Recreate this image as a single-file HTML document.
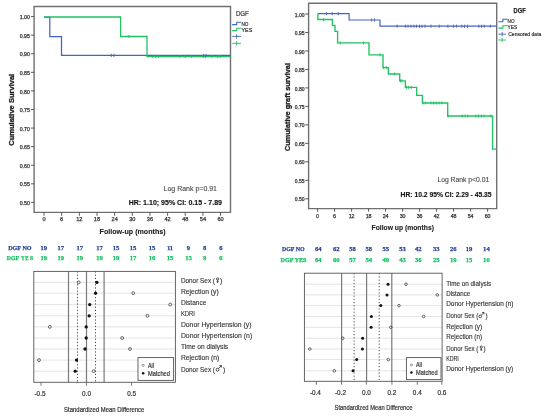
<!DOCTYPE html>
<html><head><meta charset="utf-8"><style>
html,body{margin:0;padding:0;background:#fff;width:550px;height:418px;overflow:hidden}
svg{display:block;filter:blur(0.3px)}
</style></head><body>
<svg width="550" height="418" viewBox="0 0 550 418">
<rect width="550" height="418" fill="#fff"/>
<path d="M34.1 6.5 H230.5 V212.4 H34.1 Z" fill="none" stroke="#707070" stroke-width="1.4"/>
<line x1="30.9" y1="16.60" x2="34.1" y2="16.60" stroke="#4a4a4a" stroke-width="0.9"/>
<text x="29.8" y="19.25" font-size="5.2" text-anchor="end" font-weight="normal" fill="#333" font-family="Liberation Sans" stroke="#333" stroke-width="0.25" >1.00</text>
<line x1="30.9" y1="35.18" x2="34.1" y2="35.18" stroke="#4a4a4a" stroke-width="0.9"/>
<text x="29.8" y="37.83" font-size="5.2" text-anchor="end" font-weight="normal" fill="#333" font-family="Liberation Sans" stroke="#333" stroke-width="0.25" >0.95</text>
<line x1="30.9" y1="53.76" x2="34.1" y2="53.76" stroke="#4a4a4a" stroke-width="0.9"/>
<text x="29.8" y="56.41" font-size="5.2" text-anchor="end" font-weight="normal" fill="#333" font-family="Liberation Sans" stroke="#333" stroke-width="0.25" >0.90</text>
<line x1="30.9" y1="72.34" x2="34.1" y2="72.34" stroke="#4a4a4a" stroke-width="0.9"/>
<text x="29.8" y="74.99000000000001" font-size="5.2" text-anchor="end" font-weight="normal" fill="#333" font-family="Liberation Sans" stroke="#333" stroke-width="0.25" >0.85</text>
<line x1="30.9" y1="90.92" x2="34.1" y2="90.92" stroke="#4a4a4a" stroke-width="0.9"/>
<text x="29.8" y="93.57" font-size="5.2" text-anchor="end" font-weight="normal" fill="#333" font-family="Liberation Sans" stroke="#333" stroke-width="0.25" >0.80</text>
<line x1="30.9" y1="109.50" x2="34.1" y2="109.50" stroke="#4a4a4a" stroke-width="0.9"/>
<text x="29.8" y="112.15" font-size="5.2" text-anchor="end" font-weight="normal" fill="#333" font-family="Liberation Sans" stroke="#333" stroke-width="0.25" >0.75</text>
<line x1="30.9" y1="128.08" x2="34.1" y2="128.08" stroke="#4a4a4a" stroke-width="0.9"/>
<text x="29.8" y="130.73" font-size="5.2" text-anchor="end" font-weight="normal" fill="#333" font-family="Liberation Sans" stroke="#333" stroke-width="0.25" >0.70</text>
<line x1="30.9" y1="146.66" x2="34.1" y2="146.66" stroke="#4a4a4a" stroke-width="0.9"/>
<text x="29.8" y="149.31" font-size="5.2" text-anchor="end" font-weight="normal" fill="#333" font-family="Liberation Sans" stroke="#333" stroke-width="0.25" >0.65</text>
<line x1="30.9" y1="165.24" x2="34.1" y2="165.24" stroke="#4a4a4a" stroke-width="0.9"/>
<text x="29.8" y="167.89" font-size="5.2" text-anchor="end" font-weight="normal" fill="#333" font-family="Liberation Sans" stroke="#333" stroke-width="0.25" >0.60</text>
<line x1="30.9" y1="183.82" x2="34.1" y2="183.82" stroke="#4a4a4a" stroke-width="0.9"/>
<text x="29.8" y="186.46999999999997" font-size="5.2" text-anchor="end" font-weight="normal" fill="#333" font-family="Liberation Sans" stroke="#333" stroke-width="0.25" >0.55</text>
<line x1="30.9" y1="202.40" x2="34.1" y2="202.40" stroke="#4a4a4a" stroke-width="0.9"/>
<text x="29.8" y="205.04999999999998" font-size="5.2" text-anchor="end" font-weight="normal" fill="#333" font-family="Liberation Sans" stroke="#333" stroke-width="0.25" >0.50</text>
<line x1="44.00" y1="212.4" x2="44.00" y2="215.8" stroke="#4a4a4a" stroke-width="0.9"/>
<text x="44.0" y="221.3" font-size="5.6" text-anchor="middle" font-weight="normal" fill="#333" font-family="Liberation Sans" stroke="#333" stroke-width="0.25" >0</text>
<line x1="61.66" y1="212.4" x2="61.66" y2="215.8" stroke="#4a4a4a" stroke-width="0.9"/>
<text x="61.66" y="221.3" font-size="5.6" text-anchor="middle" font-weight="normal" fill="#333" font-family="Liberation Sans" stroke="#333" stroke-width="0.25" >6</text>
<line x1="79.32" y1="212.4" x2="79.32" y2="215.8" stroke="#4a4a4a" stroke-width="0.9"/>
<text x="79.32" y="221.3" font-size="5.6" text-anchor="middle" font-weight="normal" fill="#333" font-family="Liberation Sans" stroke="#333" stroke-width="0.25" >12</text>
<line x1="96.98" y1="212.4" x2="96.98" y2="215.8" stroke="#4a4a4a" stroke-width="0.9"/>
<text x="96.98" y="221.3" font-size="5.6" text-anchor="middle" font-weight="normal" fill="#333" font-family="Liberation Sans" stroke="#333" stroke-width="0.25" >18</text>
<line x1="114.64" y1="212.4" x2="114.64" y2="215.8" stroke="#4a4a4a" stroke-width="0.9"/>
<text x="114.64" y="221.3" font-size="5.6" text-anchor="middle" font-weight="normal" fill="#333" font-family="Liberation Sans" stroke="#333" stroke-width="0.25" >24</text>
<line x1="132.30" y1="212.4" x2="132.30" y2="215.8" stroke="#4a4a4a" stroke-width="0.9"/>
<text x="132.3" y="221.3" font-size="5.6" text-anchor="middle" font-weight="normal" fill="#333" font-family="Liberation Sans" stroke="#333" stroke-width="0.25" >30</text>
<line x1="149.96" y1="212.4" x2="149.96" y2="215.8" stroke="#4a4a4a" stroke-width="0.9"/>
<text x="149.96" y="221.3" font-size="5.6" text-anchor="middle" font-weight="normal" fill="#333" font-family="Liberation Sans" stroke="#333" stroke-width="0.25" >36</text>
<line x1="167.62" y1="212.4" x2="167.62" y2="215.8" stroke="#4a4a4a" stroke-width="0.9"/>
<text x="167.62" y="221.3" font-size="5.6" text-anchor="middle" font-weight="normal" fill="#333" font-family="Liberation Sans" stroke="#333" stroke-width="0.25" >42</text>
<line x1="185.28" y1="212.4" x2="185.28" y2="215.8" stroke="#4a4a4a" stroke-width="0.9"/>
<text x="185.28" y="221.3" font-size="5.6" text-anchor="middle" font-weight="normal" fill="#333" font-family="Liberation Sans" stroke="#333" stroke-width="0.25" >48</text>
<line x1="202.94" y1="212.4" x2="202.94" y2="215.8" stroke="#4a4a4a" stroke-width="0.9"/>
<text x="202.94" y="221.3" font-size="5.6" text-anchor="middle" font-weight="normal" fill="#333" font-family="Liberation Sans" stroke="#333" stroke-width="0.25" >54</text>
<line x1="220.60" y1="212.4" x2="220.60" y2="215.8" stroke="#4a4a4a" stroke-width="0.9"/>
<text x="220.6" y="221.3" font-size="5.6" text-anchor="middle" font-weight="normal" fill="#333" font-family="Liberation Sans" stroke="#333" stroke-width="0.25" >60</text>
<text x="99.6" y="234.0" font-size="7.2" text-anchor="start" font-weight="bold" fill="#222" font-family="Liberation Sans" stroke="#222" stroke-width="0.12" textLength="66" lengthAdjust="spacingAndGlyphs" >Follow-up (months)</text>
<text transform="translate(14.2,109.8) rotate(-90)" x="0" y="0" font-size="7.4" text-anchor="middle" font-weight="bold" fill="#222" stroke="#222" stroke-width="0.3" font-family="Liberation Sans" textLength="72" lengthAdjust="spacingAndGlyphs">Cumulative Survival</text>
<polyline points="44.00,17.00 49.80,17.00 49.80,36.50 61.50,36.50 61.50,55.40 230.50,55.40" fill="none" stroke="#4563c2" stroke-width="1.25" stroke-linejoin="miter"/>
<polyline points="44.00,17.00 120.60,17.00 120.60,36.50 147.00,36.50 147.00,56.70 230.50,56.70" fill="none" stroke="#21c264" stroke-width="1.3" stroke-linejoin="miter"/>
<line x1="111.30" y1="53.80" x2="111.30" y2="57.00" stroke="#4563c2" stroke-width="0.9"/>
<line x1="114.00" y1="53.80" x2="114.00" y2="57.00" stroke="#4563c2" stroke-width="0.9"/>
<line x1="129.00" y1="34.90" x2="129.00" y2="38.10" stroke="#21c264" stroke-width="0.9"/>
<line x1="152.70" y1="54.90" x2="152.70" y2="58.10" stroke="#21c264" stroke-width="0.9"/>
<line x1="155.60" y1="54.90" x2="155.60" y2="58.10" stroke="#21c264" stroke-width="0.9"/>
<line x1="158.50" y1="54.90" x2="158.50" y2="58.10" stroke="#21c264" stroke-width="0.9"/>
<line x1="179.70" y1="54.90" x2="179.70" y2="58.10" stroke="#21c264" stroke-width="0.9"/>
<line x1="185.20" y1="54.90" x2="185.20" y2="58.10" stroke="#21c264" stroke-width="0.9"/>
<line x1="191.30" y1="54.90" x2="191.30" y2="58.10" stroke="#21c264" stroke-width="0.9"/>
<line x1="203.00" y1="54.90" x2="203.00" y2="58.10" stroke="#21c264" stroke-width="0.9"/>
<line x1="205.60" y1="54.90" x2="205.60" y2="58.10" stroke="#21c264" stroke-width="0.9"/>
<line x1="211.70" y1="54.90" x2="211.70" y2="58.10" stroke="#21c264" stroke-width="0.9"/>
<line x1="217.70" y1="54.90" x2="217.70" y2="58.10" stroke="#21c264" stroke-width="0.9"/>
<line x1="220.30" y1="54.90" x2="220.30" y2="58.10" stroke="#21c264" stroke-width="0.9"/>
<line x1="203.70" y1="53.80" x2="203.70" y2="57.00" stroke="#4563c2" stroke-width="0.9"/>
<line x1="206.00" y1="53.80" x2="206.00" y2="57.00" stroke="#4563c2" stroke-width="0.9"/>
<text x="235.9" y="15.8" font-size="7.2" text-anchor="start" font-weight="normal" fill="#333" font-family="Liberation Sans" stroke="#333" stroke-width="0.2" textLength="12.8" lengthAdjust="spacingAndGlyphs" >DGF</text>
<polyline points="232.20,24.60 236.70,24.60 236.70,22.20 241.20,22.20" fill="none" stroke="#4563c2" stroke-width="1.1" stroke-linejoin="miter"/>
<text x="241.5" y="25.8" font-size="5.6" text-anchor="start" font-weight="normal" fill="#333" font-family="Liberation Sans" stroke="#333" stroke-width="0.2" textLength="7" lengthAdjust="spacingAndGlyphs" >NO</text>
<polyline points="232.20,30.60 236.70,30.60 236.70,28.20 241.20,28.20" fill="none" stroke="#21c264" stroke-width="1.1" stroke-linejoin="miter"/>
<text x="241.5" y="31.9" font-size="5.6" text-anchor="start" font-weight="normal" fill="#333" font-family="Liberation Sans" stroke="#333" stroke-width="0.2" textLength="10.8" lengthAdjust="spacingAndGlyphs" >YES</text>
<line x1="232.2" y1="36.4" x2="241" y2="36.4" stroke="#4563c2" stroke-width="0.9"/><line x1="236.6" y1="34.3" x2="236.6" y2="38.5" stroke="#4563c2" stroke-width="0.9"/>
<line x1="232.2" y1="43.3" x2="241" y2="43.3" stroke="#21c264" stroke-width="0.9"/><line x1="236.6" y1="41.2" x2="236.6" y2="45.4" stroke="#21c264" stroke-width="0.9"/>
<text x="163.6" y="191.2" font-size="7.0" text-anchor="start" font-weight="normal" fill="#444" font-family="Liberation Sans" stroke="#444" stroke-width="0.1" textLength="53.4" lengthAdjust="spacingAndGlyphs" >Log Rank p=0.91</text>
<text x="128.7" y="204.6" font-size="7.0" text-anchor="start" font-weight="bold" fill="#111" font-family="Liberation Sans" stroke="#111" stroke-width="0.12" textLength="93.3" lengthAdjust="spacingAndGlyphs" >HR: 1.10; 95% CI: 0.15 - 7.89</text>
<path d="M308.6 3.3 H496.7 V208.6 H308.6 Z" fill="none" stroke="#707070" stroke-width="1.4"/>
<line x1="305.2" y1="14.00" x2="308.6" y2="14.00" stroke="#4a4a4a" stroke-width="0.9"/>
<text x="304.5" y="16.6" font-size="5.0" text-anchor="end" font-weight="normal" fill="#333" font-family="Liberation Sans" stroke="#333" stroke-width="0.25" >1.00</text>
<line x1="305.2" y1="32.48" x2="308.6" y2="32.48" stroke="#4a4a4a" stroke-width="0.9"/>
<text x="304.5" y="35.080000000000005" font-size="5.0" text-anchor="end" font-weight="normal" fill="#333" font-family="Liberation Sans" stroke="#333" stroke-width="0.25" >0.95</text>
<line x1="305.2" y1="50.96" x2="308.6" y2="50.96" stroke="#4a4a4a" stroke-width="0.9"/>
<text x="304.5" y="53.56" font-size="5.0" text-anchor="end" font-weight="normal" fill="#333" font-family="Liberation Sans" stroke="#333" stroke-width="0.25" >0.90</text>
<line x1="305.2" y1="69.44" x2="308.6" y2="69.44" stroke="#4a4a4a" stroke-width="0.9"/>
<text x="304.5" y="72.03999999999999" font-size="5.0" text-anchor="end" font-weight="normal" fill="#333" font-family="Liberation Sans" stroke="#333" stroke-width="0.25" >0.85</text>
<line x1="305.2" y1="87.92" x2="308.6" y2="87.92" stroke="#4a4a4a" stroke-width="0.9"/>
<text x="304.5" y="90.52" font-size="5.0" text-anchor="end" font-weight="normal" fill="#333" font-family="Liberation Sans" stroke="#333" stroke-width="0.25" >0.80</text>
<line x1="305.2" y1="106.40" x2="308.6" y2="106.40" stroke="#4a4a4a" stroke-width="0.9"/>
<text x="304.5" y="109.0" font-size="5.0" text-anchor="end" font-weight="normal" fill="#333" font-family="Liberation Sans" stroke="#333" stroke-width="0.25" >0.75</text>
<line x1="305.2" y1="124.88" x2="308.6" y2="124.88" stroke="#4a4a4a" stroke-width="0.9"/>
<text x="304.5" y="127.47999999999999" font-size="5.0" text-anchor="end" font-weight="normal" fill="#333" font-family="Liberation Sans" stroke="#333" stroke-width="0.25" >0.70</text>
<line x1="305.2" y1="143.36" x2="308.6" y2="143.36" stroke="#4a4a4a" stroke-width="0.9"/>
<text x="304.5" y="145.96" font-size="5.0" text-anchor="end" font-weight="normal" fill="#333" font-family="Liberation Sans" stroke="#333" stroke-width="0.25" >0.65</text>
<line x1="305.2" y1="161.84" x2="308.6" y2="161.84" stroke="#4a4a4a" stroke-width="0.9"/>
<text x="304.5" y="164.44" font-size="5.0" text-anchor="end" font-weight="normal" fill="#333" font-family="Liberation Sans" stroke="#333" stroke-width="0.25" >0.60</text>
<line x1="305.2" y1="180.32" x2="308.6" y2="180.32" stroke="#4a4a4a" stroke-width="0.9"/>
<text x="304.5" y="182.92" font-size="5.0" text-anchor="end" font-weight="normal" fill="#333" font-family="Liberation Sans" stroke="#333" stroke-width="0.25" >0.55</text>
<line x1="305.2" y1="198.80" x2="308.6" y2="198.80" stroke="#4a4a4a" stroke-width="0.9"/>
<text x="304.5" y="201.4" font-size="5.0" text-anchor="end" font-weight="normal" fill="#333" font-family="Liberation Sans" stroke="#333" stroke-width="0.25" >0.50</text>
<line x1="317.60" y1="208.6" x2="317.60" y2="211.7" stroke="#4a4a4a" stroke-width="0.9"/>
<text x="317.6" y="217.6" font-size="5.3" text-anchor="middle" font-weight="normal" fill="#333" font-family="Liberation Sans" stroke="#333" stroke-width="0.25" >0</text>
<line x1="334.60" y1="208.6" x2="334.60" y2="211.7" stroke="#4a4a4a" stroke-width="0.9"/>
<text x="334.6" y="217.6" font-size="5.3" text-anchor="middle" font-weight="normal" fill="#333" font-family="Liberation Sans" stroke="#333" stroke-width="0.25" >6</text>
<line x1="351.60" y1="208.6" x2="351.60" y2="211.7" stroke="#4a4a4a" stroke-width="0.9"/>
<text x="351.6" y="217.6" font-size="5.3" text-anchor="middle" font-weight="normal" fill="#333" font-family="Liberation Sans" stroke="#333" stroke-width="0.25" >12</text>
<line x1="368.60" y1="208.6" x2="368.60" y2="211.7" stroke="#4a4a4a" stroke-width="0.9"/>
<text x="368.6" y="217.6" font-size="5.3" text-anchor="middle" font-weight="normal" fill="#333" font-family="Liberation Sans" stroke="#333" stroke-width="0.25" >18</text>
<line x1="385.60" y1="208.6" x2="385.60" y2="211.7" stroke="#4a4a4a" stroke-width="0.9"/>
<text x="385.6" y="217.6" font-size="5.3" text-anchor="middle" font-weight="normal" fill="#333" font-family="Liberation Sans" stroke="#333" stroke-width="0.25" >24</text>
<line x1="402.60" y1="208.6" x2="402.60" y2="211.7" stroke="#4a4a4a" stroke-width="0.9"/>
<text x="402.6" y="217.6" font-size="5.3" text-anchor="middle" font-weight="normal" fill="#333" font-family="Liberation Sans" stroke="#333" stroke-width="0.25" >30</text>
<line x1="419.60" y1="208.6" x2="419.60" y2="211.7" stroke="#4a4a4a" stroke-width="0.9"/>
<text x="419.6" y="217.6" font-size="5.3" text-anchor="middle" font-weight="normal" fill="#333" font-family="Liberation Sans" stroke="#333" stroke-width="0.25" >36</text>
<line x1="436.60" y1="208.6" x2="436.60" y2="211.7" stroke="#4a4a4a" stroke-width="0.9"/>
<text x="436.6" y="217.6" font-size="5.3" text-anchor="middle" font-weight="normal" fill="#333" font-family="Liberation Sans" stroke="#333" stroke-width="0.25" >42</text>
<line x1="453.60" y1="208.6" x2="453.60" y2="211.7" stroke="#4a4a4a" stroke-width="0.9"/>
<text x="453.6" y="217.6" font-size="5.3" text-anchor="middle" font-weight="normal" fill="#333" font-family="Liberation Sans" stroke="#333" stroke-width="0.25" >48</text>
<line x1="470.60" y1="208.6" x2="470.60" y2="211.7" stroke="#4a4a4a" stroke-width="0.9"/>
<text x="470.6" y="217.6" font-size="5.3" text-anchor="middle" font-weight="normal" fill="#333" font-family="Liberation Sans" stroke="#333" stroke-width="0.25" >54</text>
<line x1="487.60" y1="208.6" x2="487.60" y2="211.7" stroke="#4a4a4a" stroke-width="0.9"/>
<text x="487.6" y="217.6" font-size="5.3" text-anchor="middle" font-weight="normal" fill="#333" font-family="Liberation Sans" stroke="#333" stroke-width="0.25" >60</text>
<text x="371.6" y="229.8" font-size="7.2" text-anchor="start" font-weight="bold" fill="#222" font-family="Liberation Sans" stroke="#222" stroke-width="0.12" textLength="62.3" lengthAdjust="spacingAndGlyphs" >Follow up (months)</text>
<text transform="translate(289.6,107) rotate(-90)" x="0" y="0" font-size="7.4" text-anchor="middle" font-weight="bold" fill="#222" stroke="#222" stroke-width="0.3" font-family="Liberation Sans" textLength="88" lengthAdjust="spacingAndGlyphs">Cumulative graft survival</text>
<polyline points="317.90,13.60 349.10,13.60 349.10,20.00 380.00,20.00 380.00,26.20 496.70,26.20" fill="none" stroke="#4563c2" stroke-width="1.2" stroke-linejoin="miter"/>
<line x1="326.40" y1="12.00" x2="326.40" y2="15.20" stroke="#4563c2" stroke-width="0.9"/>
<line x1="332.20" y1="12.00" x2="332.20" y2="15.20" stroke="#4563c2" stroke-width="0.9"/>
<line x1="338.20" y1="12.00" x2="338.20" y2="15.20" stroke="#4563c2" stroke-width="0.9"/>
<line x1="371.60" y1="18.40" x2="371.60" y2="21.60" stroke="#4563c2" stroke-width="0.9"/>
<line x1="374.50" y1="18.40" x2="374.50" y2="21.60" stroke="#4563c2" stroke-width="0.9"/>
<line x1="397.10" y1="24.60" x2="397.10" y2="27.80" stroke="#4563c2" stroke-width="0.9"/>
<line x1="405.40" y1="24.60" x2="405.40" y2="27.80" stroke="#4563c2" stroke-width="0.9"/>
<line x1="408.00" y1="24.60" x2="408.00" y2="27.80" stroke="#4563c2" stroke-width="0.9"/>
<line x1="411.00" y1="24.60" x2="411.00" y2="27.80" stroke="#4563c2" stroke-width="0.9"/>
<line x1="414.00" y1="24.60" x2="414.00" y2="27.80" stroke="#4563c2" stroke-width="0.9"/>
<line x1="416.60" y1="24.60" x2="416.60" y2="27.80" stroke="#4563c2" stroke-width="0.9"/>
<line x1="419.50" y1="24.60" x2="419.50" y2="27.80" stroke="#4563c2" stroke-width="0.9"/>
<line x1="422.00" y1="24.60" x2="422.00" y2="27.80" stroke="#4563c2" stroke-width="0.9"/>
<line x1="425.00" y1="24.60" x2="425.00" y2="27.80" stroke="#4563c2" stroke-width="0.9"/>
<line x1="431.10" y1="24.60" x2="431.10" y2="27.80" stroke="#4563c2" stroke-width="0.9"/>
<line x1="439.30" y1="24.60" x2="439.30" y2="27.80" stroke="#4563c2" stroke-width="0.9"/>
<line x1="447.90" y1="24.60" x2="447.90" y2="27.80" stroke="#4563c2" stroke-width="0.9"/>
<line x1="453.40" y1="24.60" x2="453.40" y2="27.80" stroke="#4563c2" stroke-width="0.9"/>
<line x1="456.40" y1="24.60" x2="456.40" y2="27.80" stroke="#4563c2" stroke-width="0.9"/>
<line x1="461.80" y1="24.60" x2="461.80" y2="27.80" stroke="#4563c2" stroke-width="0.9"/>
<line x1="464.50" y1="24.60" x2="464.50" y2="27.80" stroke="#4563c2" stroke-width="0.9"/>
<line x1="467.50" y1="24.60" x2="467.50" y2="27.80" stroke="#4563c2" stroke-width="0.9"/>
<line x1="478.90" y1="24.60" x2="478.90" y2="27.80" stroke="#4563c2" stroke-width="0.9"/>
<line x1="481.60" y1="24.60" x2="481.60" y2="27.80" stroke="#4563c2" stroke-width="0.9"/>
<line x1="484.30" y1="24.60" x2="484.30" y2="27.80" stroke="#4563c2" stroke-width="0.9"/>
<line x1="490.20" y1="24.60" x2="490.20" y2="27.80" stroke="#4563c2" stroke-width="0.9"/>
<polyline points="317.90,13.60 317.90,19.50 332.40,19.50 332.40,25.30 335.00,25.30 335.00,31.30 337.60,31.30 337.60,42.90 369.00,42.90 369.00,54.90 383.00,54.90 383.00,67.60 388.30,67.60 388.30,74.00 399.70,74.00 399.70,80.80 405.40,80.80 405.40,87.40 416.70,87.40 416.70,95.30 422.40,95.30 422.40,103.00 447.70,103.00 447.70,116.00 492.60,116.00 492.60,149.10 496.70,149.10" fill="none" stroke="#21c264" stroke-width="1.35" stroke-linejoin="miter"/>
<line x1="323.70" y1="17.90" x2="323.70" y2="21.10" stroke="#21c264" stroke-width="0.9"/>
<line x1="340.30" y1="41.30" x2="340.30" y2="44.50" stroke="#21c264" stroke-width="0.9"/>
<line x1="363.50" y1="41.30" x2="363.50" y2="44.50" stroke="#21c264" stroke-width="0.9"/>
<line x1="380.00" y1="53.30" x2="380.00" y2="56.50" stroke="#21c264" stroke-width="0.9"/>
<line x1="383.60" y1="66.00" x2="383.60" y2="69.20" stroke="#21c264" stroke-width="0.9"/>
<line x1="386.30" y1="66.00" x2="386.30" y2="69.20" stroke="#21c264" stroke-width="0.9"/>
<line x1="394.50" y1="72.40" x2="394.50" y2="75.60" stroke="#21c264" stroke-width="0.9"/>
<line x1="400.50" y1="79.20" x2="400.50" y2="82.40" stroke="#21c264" stroke-width="0.9"/>
<line x1="402.00" y1="79.20" x2="402.00" y2="82.40" stroke="#21c264" stroke-width="0.9"/>
<line x1="406.50" y1="85.80" x2="406.50" y2="89.00" stroke="#21c264" stroke-width="0.9"/>
<line x1="408.60" y1="85.80" x2="408.60" y2="89.00" stroke="#21c264" stroke-width="0.9"/>
<line x1="411.30" y1="85.80" x2="411.30" y2="89.00" stroke="#21c264" stroke-width="0.9"/>
<line x1="423.00" y1="101.40" x2="423.00" y2="104.60" stroke="#21c264" stroke-width="0.9"/>
<line x1="425.70" y1="101.40" x2="425.70" y2="104.60" stroke="#21c264" stroke-width="0.9"/>
<line x1="431.00" y1="101.40" x2="431.00" y2="104.60" stroke="#21c264" stroke-width="0.9"/>
<line x1="433.70" y1="101.40" x2="433.70" y2="104.60" stroke="#21c264" stroke-width="0.9"/>
<line x1="436.40" y1="101.40" x2="436.40" y2="104.60" stroke="#21c264" stroke-width="0.9"/>
<line x1="439.10" y1="101.40" x2="439.10" y2="104.60" stroke="#21c264" stroke-width="0.9"/>
<line x1="441.80" y1="101.40" x2="441.80" y2="104.60" stroke="#21c264" stroke-width="0.9"/>
<line x1="448.10" y1="114.40" x2="448.10" y2="117.60" stroke="#21c264" stroke-width="0.9"/>
<line x1="462.10" y1="114.40" x2="462.10" y2="117.60" stroke="#21c264" stroke-width="0.9"/>
<line x1="465.20" y1="114.40" x2="465.20" y2="117.60" stroke="#21c264" stroke-width="0.9"/>
<line x1="467.90" y1="114.40" x2="467.90" y2="117.60" stroke="#21c264" stroke-width="0.9"/>
<line x1="475.90" y1="114.40" x2="475.90" y2="117.60" stroke="#21c264" stroke-width="0.9"/>
<line x1="478.60" y1="114.40" x2="478.60" y2="117.60" stroke="#21c264" stroke-width="0.9"/>
<line x1="481.30" y1="114.40" x2="481.30" y2="117.60" stroke="#21c264" stroke-width="0.9"/>
<line x1="484.00" y1="114.40" x2="484.00" y2="117.60" stroke="#21c264" stroke-width="0.9"/>
<line x1="490.80" y1="114.40" x2="490.80" y2="117.60" stroke="#21c264" stroke-width="0.9"/>
<text x="513.6" y="12.6" font-size="7.6" text-anchor="start" font-weight="bold" fill="#222" font-family="Liberation Sans" stroke="#222" stroke-width="0.25" textLength="12.1" lengthAdjust="spacingAndGlyphs" >DGF</text>
<polyline points="498.40,21.70 502.90,21.70 502.90,19.30 507.40,19.30" fill="none" stroke="#4563c2" stroke-width="1.1" stroke-linejoin="miter"/>
<text x="507.6" y="22.9" font-size="5.6" text-anchor="start" font-weight="normal" fill="#333" font-family="Liberation Sans" stroke="#333" stroke-width="0.2" textLength="7" lengthAdjust="spacingAndGlyphs" >NO</text>
<polyline points="498.40,28.10 502.90,28.10 502.90,25.70 507.40,25.70" fill="none" stroke="#21c264" stroke-width="1.1" stroke-linejoin="miter"/>
<text x="507.6" y="29.3" font-size="5.6" text-anchor="start" font-weight="normal" fill="#333" font-family="Liberation Sans" stroke="#333" stroke-width="0.2" textLength="9.5" lengthAdjust="spacingAndGlyphs" >YES</text>
<line x1="498.4" y1="34.2" x2="506" y2="34.2" stroke="#4563c2" stroke-width="0.9"/><line x1="502.2" y1="32.1" x2="502.2" y2="36.3" stroke="#4563c2" stroke-width="0.9"/>
<text x="508.2" y="36.3" font-size="5.6" text-anchor="start" font-weight="normal" fill="#333" font-family="Liberation Sans" stroke="#333" stroke-width="0.2" textLength="33.2" lengthAdjust="spacingAndGlyphs" >Censored data</text>
<line x1="498.4" y1="40.0" x2="506" y2="40.0" stroke="#21c264" stroke-width="0.9"/><line x1="502.2" y1="37.9" x2="502.2" y2="42.1" stroke="#21c264" stroke-width="0.9"/>
<text x="437.4" y="181.5" font-size="7.0" text-anchor="start" font-weight="normal" fill="#444" font-family="Liberation Sans" stroke="#444" stroke-width="0.1" textLength="51.8" lengthAdjust="spacingAndGlyphs" >Log Rank p&lt;0.01</text>
<text x="400.6" y="197.1" font-size="7.0" text-anchor="start" font-weight="bold" fill="#111" font-family="Liberation Sans" stroke="#111" stroke-width="0.12" textLength="91" lengthAdjust="spacingAndGlyphs" >HR: 10.2 95% CI: 2.29 - 45.35</text>
<text x="8.2" y="249.6" font-size="6.6" text-anchor="start" font-weight="bold" fill="#2b4594" font-family="Liberation Serif" stroke="#2b4594" stroke-width="0.25" textLength="12.8" lengthAdjust="spacingAndGlyphs" >DGF</text>
<text x="22.4" y="249.6" font-size="6.6" text-anchor="start" font-weight="bold" fill="#2b4594" font-family="Liberation Serif" stroke="#2b4594" stroke-width="0.25" textLength="9.1" lengthAdjust="spacingAndGlyphs" >NO</text>
<text x="6.8" y="259.9" font-size="6.6" text-anchor="start" font-weight="bold" fill="#14bf5e" font-family="Liberation Serif" stroke="#14bf5e" stroke-width="0.25" textLength="12.3" lengthAdjust="spacingAndGlyphs" >DGF</text>
<text x="20.9" y="259.9" font-size="6.6" text-anchor="start" font-weight="bold" fill="#14bf5e" font-family="Liberation Serif" stroke="#14bf5e" stroke-width="0.25" textLength="3.7" lengthAdjust="spacingAndGlyphs" >Y</text>
<text x="25.2" y="259.9" font-size="6.6" text-anchor="start" font-weight="bold" fill="#14bf5e" font-family="Liberation Serif" stroke="#14bf5e" stroke-width="0.25" textLength="3.3" lengthAdjust="spacingAndGlyphs" >E</text>
<text x="29.9" y="259.9" font-size="6.6" text-anchor="start" font-weight="bold" fill="#14bf5e" font-family="Liberation Serif" stroke="#14bf5e" stroke-width="0.25" textLength="3.2" lengthAdjust="spacingAndGlyphs" >S</text>
<text x="43.8" y="249.5" font-size="6.6" text-anchor="middle" font-weight="bold" fill="#2b4594" font-family="Liberation Serif" stroke="#2b4594" stroke-width="0.25" >19</text>
<text x="60.8" y="249.5" font-size="6.6" text-anchor="middle" font-weight="bold" fill="#2b4594" font-family="Liberation Serif" stroke="#2b4594" stroke-width="0.25" >17</text>
<text x="79.7" y="249.5" font-size="6.6" text-anchor="middle" font-weight="bold" fill="#2b4594" font-family="Liberation Serif" stroke="#2b4594" stroke-width="0.25" >17</text>
<text x="99.6" y="249.5" font-size="6.6" text-anchor="middle" font-weight="bold" fill="#2b4594" font-family="Liberation Serif" stroke="#2b4594" stroke-width="0.25" >17</text>
<text x="116" y="249.5" font-size="6.6" text-anchor="middle" font-weight="bold" fill="#2b4594" font-family="Liberation Serif" stroke="#2b4594" stroke-width="0.25" >15</text>
<text x="133" y="249.5" font-size="6.6" text-anchor="middle" font-weight="bold" fill="#2b4594" font-family="Liberation Serif" stroke="#2b4594" stroke-width="0.25" >15</text>
<text x="152" y="249.5" font-size="6.6" text-anchor="middle" font-weight="bold" fill="#2b4594" font-family="Liberation Serif" stroke="#2b4594" stroke-width="0.25" >15</text>
<text x="170" y="249.5" font-size="6.6" text-anchor="middle" font-weight="bold" fill="#2b4594" font-family="Liberation Serif" stroke="#2b4594" stroke-width="0.25" >11</text>
<text x="188.5" y="249.5" font-size="6.6" text-anchor="middle" font-weight="bold" fill="#2b4594" font-family="Liberation Serif" stroke="#2b4594" stroke-width="0.25" >9</text>
<text x="204.7" y="249.5" font-size="6.6" text-anchor="middle" font-weight="bold" fill="#2b4594" font-family="Liberation Serif" stroke="#2b4594" stroke-width="0.25" >8</text>
<text x="221" y="249.5" font-size="6.6" text-anchor="middle" font-weight="bold" fill="#2b4594" font-family="Liberation Serif" stroke="#2b4594" stroke-width="0.25" >6</text>
<text x="43.8" y="259.9" font-size="6.6" text-anchor="middle" font-weight="bold" fill="#14bf5e" font-family="Liberation Serif" stroke="#14bf5e" stroke-width="0.25" >19</text>
<text x="60.8" y="259.9" font-size="6.6" text-anchor="middle" font-weight="bold" fill="#14bf5e" font-family="Liberation Serif" stroke="#14bf5e" stroke-width="0.25" >19</text>
<text x="79.7" y="259.9" font-size="6.6" text-anchor="middle" font-weight="bold" fill="#14bf5e" font-family="Liberation Serif" stroke="#14bf5e" stroke-width="0.25" >19</text>
<text x="99.6" y="259.9" font-size="6.6" text-anchor="middle" font-weight="bold" fill="#14bf5e" font-family="Liberation Serif" stroke="#14bf5e" stroke-width="0.25" >19</text>
<text x="116" y="259.9" font-size="6.6" text-anchor="middle" font-weight="bold" fill="#14bf5e" font-family="Liberation Serif" stroke="#14bf5e" stroke-width="0.25" >19</text>
<text x="133" y="259.9" font-size="6.6" text-anchor="middle" font-weight="bold" fill="#14bf5e" font-family="Liberation Serif" stroke="#14bf5e" stroke-width="0.25" >17</text>
<text x="152" y="259.9" font-size="6.6" text-anchor="middle" font-weight="bold" fill="#14bf5e" font-family="Liberation Serif" stroke="#14bf5e" stroke-width="0.25" >16</text>
<text x="170" y="259.9" font-size="6.6" text-anchor="middle" font-weight="bold" fill="#14bf5e" font-family="Liberation Serif" stroke="#14bf5e" stroke-width="0.25" >15</text>
<text x="188.5" y="259.9" font-size="6.6" text-anchor="middle" font-weight="bold" fill="#14bf5e" font-family="Liberation Serif" stroke="#14bf5e" stroke-width="0.25" >13</text>
<text x="204.7" y="259.9" font-size="6.6" text-anchor="middle" font-weight="bold" fill="#14bf5e" font-family="Liberation Serif" stroke="#14bf5e" stroke-width="0.25" >9</text>
<text x="221" y="259.9" font-size="6.6" text-anchor="middle" font-weight="bold" fill="#14bf5e" font-family="Liberation Serif" stroke="#14bf5e" stroke-width="0.25" >6</text>
<text x="282" y="251.3" font-size="6.6" text-anchor="start" font-weight="bold" fill="#2b4594" font-family="Liberation Serif" stroke="#2b4594" stroke-width="0.25" textLength="22.5" lengthAdjust="spacingAndGlyphs" >DGF NO</text>
<text x="280.5" y="261.7" font-size="6.6" text-anchor="start" font-weight="bold" fill="#14bf5e" font-family="Liberation Serif" stroke="#14bf5e" stroke-width="0.25" textLength="26" lengthAdjust="spacingAndGlyphs" >DGF YES</text>
<text x="318.2" y="251.3" font-size="6.6" text-anchor="middle" font-weight="bold" fill="#2b4594" font-family="Liberation Serif" stroke="#2b4594" stroke-width="0.25" >64</text>
<text x="336.2" y="251.3" font-size="6.6" text-anchor="middle" font-weight="bold" fill="#2b4594" font-family="Liberation Serif" stroke="#2b4594" stroke-width="0.25" >62</text>
<text x="352.5" y="251.3" font-size="6.6" text-anchor="middle" font-weight="bold" fill="#2b4594" font-family="Liberation Serif" stroke="#2b4594" stroke-width="0.25" >58</text>
<text x="368.7" y="251.3" font-size="6.6" text-anchor="middle" font-weight="bold" fill="#2b4594" font-family="Liberation Serif" stroke="#2b4594" stroke-width="0.25" >58</text>
<text x="385.7" y="251.3" font-size="6.6" text-anchor="middle" font-weight="bold" fill="#2b4594" font-family="Liberation Serif" stroke="#2b4594" stroke-width="0.25" >55</text>
<text x="402.5" y="251.3" font-size="6.6" text-anchor="middle" font-weight="bold" fill="#2b4594" font-family="Liberation Serif" stroke="#2b4594" stroke-width="0.25" >53</text>
<text x="418.3" y="251.3" font-size="6.6" text-anchor="middle" font-weight="bold" fill="#2b4594" font-family="Liberation Serif" stroke="#2b4594" stroke-width="0.25" >42</text>
<text x="436.3" y="251.3" font-size="6.6" text-anchor="middle" font-weight="bold" fill="#2b4594" font-family="Liberation Serif" stroke="#2b4594" stroke-width="0.25" >33</text>
<text x="453.2" y="251.3" font-size="6.6" text-anchor="middle" font-weight="bold" fill="#2b4594" font-family="Liberation Serif" stroke="#2b4594" stroke-width="0.25" >26</text>
<text x="469" y="251.3" font-size="6.6" text-anchor="middle" font-weight="bold" fill="#2b4594" font-family="Liberation Serif" stroke="#2b4594" stroke-width="0.25" >19</text>
<text x="486.4" y="251.3" font-size="6.6" text-anchor="middle" font-weight="bold" fill="#2b4594" font-family="Liberation Serif" stroke="#2b4594" stroke-width="0.25" >14</text>
<text x="318.2" y="261.7" font-size="6.6" text-anchor="middle" font-weight="bold" fill="#14bf5e" font-family="Liberation Serif" stroke="#14bf5e" stroke-width="0.25" >64</text>
<text x="336.2" y="261.7" font-size="6.6" text-anchor="middle" font-weight="bold" fill="#14bf5e" font-family="Liberation Serif" stroke="#14bf5e" stroke-width="0.25" >60</text>
<text x="352.5" y="261.7" font-size="6.6" text-anchor="middle" font-weight="bold" fill="#14bf5e" font-family="Liberation Serif" stroke="#14bf5e" stroke-width="0.25" >57</text>
<text x="368.7" y="261.7" font-size="6.6" text-anchor="middle" font-weight="bold" fill="#14bf5e" font-family="Liberation Serif" stroke="#14bf5e" stroke-width="0.25" >54</text>
<text x="385.7" y="261.7" font-size="6.6" text-anchor="middle" font-weight="bold" fill="#14bf5e" font-family="Liberation Serif" stroke="#14bf5e" stroke-width="0.25" >49</text>
<text x="402.5" y="261.7" font-size="6.6" text-anchor="middle" font-weight="bold" fill="#14bf5e" font-family="Liberation Serif" stroke="#14bf5e" stroke-width="0.25" >43</text>
<text x="418.3" y="261.7" font-size="6.6" text-anchor="middle" font-weight="bold" fill="#14bf5e" font-family="Liberation Serif" stroke="#14bf5e" stroke-width="0.25" >36</text>
<text x="436.3" y="261.7" font-size="6.6" text-anchor="middle" font-weight="bold" fill="#14bf5e" font-family="Liberation Serif" stroke="#14bf5e" stroke-width="0.25" >25</text>
<text x="453.2" y="261.7" font-size="6.6" text-anchor="middle" font-weight="bold" fill="#14bf5e" font-family="Liberation Serif" stroke="#14bf5e" stroke-width="0.25" >19</text>
<text x="469" y="261.7" font-size="6.6" text-anchor="middle" font-weight="bold" fill="#14bf5e" font-family="Liberation Serif" stroke="#14bf5e" stroke-width="0.25" >15</text>
<text x="486.4" y="261.7" font-size="6.6" text-anchor="middle" font-weight="bold" fill="#14bf5e" font-family="Liberation Serif" stroke="#14bf5e" stroke-width="0.25" >10</text>
<line x1="33.8" y1="282.40" x2="175.4" y2="282.40" stroke="#e4e4e4" stroke-width="1.0"/>
<line x1="33.8" y1="293.20" x2="175.4" y2="293.20" stroke="#e4e4e4" stroke-width="1.0"/>
<line x1="33.8" y1="304.60" x2="175.4" y2="304.60" stroke="#e4e4e4" stroke-width="1.0"/>
<line x1="33.8" y1="315.80" x2="175.4" y2="315.80" stroke="#e4e4e4" stroke-width="1.0"/>
<line x1="33.8" y1="326.90" x2="175.4" y2="326.90" stroke="#e4e4e4" stroke-width="1.0"/>
<line x1="33.8" y1="338.00" x2="175.4" y2="338.00" stroke="#e4e4e4" stroke-width="1.0"/>
<line x1="33.8" y1="349.00" x2="175.4" y2="349.00" stroke="#e4e4e4" stroke-width="1.0"/>
<line x1="33.8" y1="360.10" x2="175.4" y2="360.10" stroke="#e4e4e4" stroke-width="1.0"/>
<line x1="33.8" y1="371.20" x2="175.4" y2="371.20" stroke="#e4e4e4" stroke-width="1.0"/>
<line x1="68.50" y1="271.4" x2="68.50" y2="382.3" stroke="#7a7a7a" stroke-width="1.2"/>
<line x1="86.50" y1="271.4" x2="86.50" y2="382.3" stroke="#7a7a7a" stroke-width="1.2"/>
<line x1="104.10" y1="271.4" x2="104.10" y2="382.3" stroke="#7a7a7a" stroke-width="1.2"/>
<line x1="77.50" y1="271.4" x2="77.50" y2="382.3" stroke="#333" stroke-width="0.9" stroke-dasharray="1.2,2.0"/>
<line x1="95.50" y1="271.4" x2="95.50" y2="382.3" stroke="#333" stroke-width="0.9" stroke-dasharray="1.2,2.0"/>
<rect x="33.8" y="271.4" width="141.60" height="110.90" fill="none" stroke="#555" stroke-width="0.9"/>
<line x1="41.00" y1="382.3" x2="41.00" y2="385.70" stroke="#555" stroke-width="0.8"/>
<text x="40.0" y="396.4" font-size="6.4" text-anchor="middle" font-weight="normal" fill="#333" font-family="Liberation Sans" stroke="#333" stroke-width="0.2" >-0.5</text>
<line x1="86.50" y1="382.3" x2="86.50" y2="385.70" stroke="#555" stroke-width="0.8"/>
<text x="86.5" y="396.4" font-size="6.4" text-anchor="middle" font-weight="normal" fill="#333" font-family="Liberation Sans" stroke="#333" stroke-width="0.2" >0.0</text>
<line x1="131.60" y1="382.3" x2="131.60" y2="385.70" stroke="#555" stroke-width="0.8"/>
<text x="131.6" y="396.4" font-size="6.4" text-anchor="middle" font-weight="normal" fill="#333" font-family="Liberation Sans" stroke="#333" stroke-width="0.2" >0.5</text>
<text x="180.9" y="283.0" font-size="6.8" text-anchor="start" font-weight="normal" fill="#333" font-family="Liberation Sans" stroke="#333" stroke-width="0.12" textLength="34.1" lengthAdjust="spacingAndGlyphs" >Donor Sex (</text>
<text x="222.29999999999998" y="283.0" font-size="6.8" text-anchor="end" font-weight="normal" fill="#333" font-family="Liberation Sans" stroke="#333" stroke-width="0.12" >)</text>
<circle cx="217.60" cy="279.00" r="1.15" fill="none" stroke="#333" stroke-width="0.85"/>
<path d="M217.60 280.15V283.10M216.60 281.70H218.60" stroke="#333" stroke-width="0.85" fill="none"/>
<text x="180.9" y="293.9" font-size="6.8" text-anchor="start" font-weight="normal" fill="#333" font-family="Liberation Sans" stroke="#333" stroke-width="0.12" textLength="37.8" lengthAdjust="spacingAndGlyphs" >Rejection (y)</text>
<text x="180.9" y="305.0" font-size="6.8" text-anchor="start" font-weight="normal" fill="#333" font-family="Liberation Sans" stroke="#333" stroke-width="0.12" textLength="25.5" lengthAdjust="spacingAndGlyphs" >Distance</text>
<text x="180.9" y="315.5" font-size="6.8" text-anchor="start" font-weight="normal" fill="#333" font-family="Liberation Sans" stroke="#333" stroke-width="0.12" textLength="14.1" lengthAdjust="spacingAndGlyphs" >KDRI</text>
<text x="180.9" y="327.2" font-size="6.8" text-anchor="start" font-weight="normal" fill="#333" font-family="Liberation Sans" stroke="#333" stroke-width="0.12" textLength="70.6" lengthAdjust="spacingAndGlyphs" >Donor Hypertension (y)</text>
<text x="180.9" y="338.1" font-size="6.8" text-anchor="start" font-weight="normal" fill="#333" font-family="Liberation Sans" stroke="#333" stroke-width="0.12" textLength="71.3" lengthAdjust="spacingAndGlyphs" >Donor Hypertension (n)</text>
<text x="180.9" y="348.8" font-size="6.8" text-anchor="start" font-weight="normal" fill="#333" font-family="Liberation Sans" stroke="#333" stroke-width="0.12" textLength="47.3" lengthAdjust="spacingAndGlyphs" >Time on dialysis</text>
<text x="180.9" y="360.2" font-size="6.8" text-anchor="start" font-weight="normal" fill="#333" font-family="Liberation Sans" stroke="#333" stroke-width="0.12" textLength="38.3" lengthAdjust="spacingAndGlyphs" >Rejection (n)</text>
<text x="180.9" y="371.5" font-size="6.8" text-anchor="start" font-weight="normal" fill="#333" font-family="Liberation Sans" stroke="#333" stroke-width="0.12" textLength="34.1" lengthAdjust="spacingAndGlyphs" >Donor Sex (</text>
<text x="225.3" y="371.5" font-size="6.8" text-anchor="end" font-weight="normal" fill="#333" font-family="Liberation Sans" stroke="#333" stroke-width="0.12" >)</text>
<circle cx="217.50" cy="369.70" r="1.45" fill="none" stroke="#333" stroke-width="0.9"/>
<path d="M218.60 368.60L221.40 365.60M219.40 365.60H221.40V367.60" stroke="#333" stroke-width="0.85" fill="none"/>
<circle cx="78.70" cy="282.40" r="1.45" fill="none" stroke="#444" stroke-width="0.8"/>
<circle cx="133.20" cy="293.20" r="1.45" fill="none" stroke="#444" stroke-width="0.8"/>
<circle cx="170.20" cy="304.60" r="1.45" fill="none" stroke="#444" stroke-width="0.8"/>
<circle cx="147.50" cy="315.80" r="1.45" fill="none" stroke="#444" stroke-width="0.8"/>
<circle cx="49.80" cy="326.90" r="1.45" fill="none" stroke="#444" stroke-width="0.8"/>
<circle cx="122.20" cy="338.00" r="1.45" fill="none" stroke="#444" stroke-width="0.8"/>
<circle cx="130.00" cy="349.00" r="1.45" fill="none" stroke="#444" stroke-width="0.8"/>
<circle cx="39.00" cy="360.10" r="1.45" fill="none" stroke="#444" stroke-width="0.8"/>
<circle cx="93.70" cy="371.20" r="1.45" fill="none" stroke="#444" stroke-width="0.8"/>
<circle cx="96.90" cy="282.40" r="1.65" fill="#111"/>
<circle cx="95.60" cy="293.20" r="1.65" fill="#111"/>
<circle cx="89.70" cy="304.60" r="1.65" fill="#111"/>
<circle cx="89.20" cy="315.80" r="1.65" fill="#111"/>
<circle cx="86.20" cy="326.90" r="1.65" fill="#111"/>
<circle cx="86.20" cy="338.00" r="1.65" fill="#111"/>
<circle cx="85.00" cy="349.00" r="1.65" fill="#111"/>
<circle cx="76.50" cy="360.10" r="1.65" fill="#111"/>
<circle cx="75.20" cy="371.20" r="1.65" fill="#111"/>
<rect x="138.0" y="357.6" width="35.6" height="22.8" fill="#fff" stroke="#555" stroke-width="0.9"/>
<circle cx="143.2" cy="365.3" r="1.05" fill="none" stroke="#555" stroke-width="0.6"/>
<circle cx="143.2" cy="373.20000000000005" r="1.25" fill="#111"/>
<text x="148.0" y="367.6" font-size="6.9" text-anchor="start" font-weight="normal" fill="#333" font-family="Liberation Sans" stroke="#333" stroke-width="0.2" textLength="6" lengthAdjust="spacingAndGlyphs" >All</text>
<text x="148.0" y="375.6" font-size="6.9" text-anchor="start" font-weight="normal" fill="#333" font-family="Liberation Sans" stroke="#333" stroke-width="0.2" textLength="22.0" lengthAdjust="spacingAndGlyphs" >Matched</text>
<text x="64.1" y="411.7" font-size="6.6" text-anchor="start" font-weight="normal" fill="#333" font-family="Liberation Sans" stroke="#333" stroke-width="0.2" textLength="80.2" lengthAdjust="spacingAndGlyphs" >Standardized Mean Difference</text>
<line x1="304.4" y1="284.20" x2="442.1" y2="284.20" stroke="#e4e4e4" stroke-width="1.0"/>
<line x1="304.4" y1="294.90" x2="442.1" y2="294.90" stroke="#e4e4e4" stroke-width="1.0"/>
<line x1="304.4" y1="305.60" x2="442.1" y2="305.60" stroke="#e4e4e4" stroke-width="1.0"/>
<line x1="304.4" y1="316.50" x2="442.1" y2="316.50" stroke="#e4e4e4" stroke-width="1.0"/>
<line x1="304.4" y1="327.30" x2="442.1" y2="327.30" stroke="#e4e4e4" stroke-width="1.0"/>
<line x1="304.4" y1="338.20" x2="442.1" y2="338.20" stroke="#e4e4e4" stroke-width="1.0"/>
<line x1="304.4" y1="349.00" x2="442.1" y2="349.00" stroke="#e4e4e4" stroke-width="1.0"/>
<line x1="304.4" y1="359.60" x2="442.1" y2="359.60" stroke="#e4e4e4" stroke-width="1.0"/>
<line x1="304.4" y1="370.80" x2="442.1" y2="370.80" stroke="#e4e4e4" stroke-width="1.0"/>
<line x1="341.60" y1="273.2" x2="341.60" y2="381.3" stroke="#7a7a7a" stroke-width="1.2"/>
<line x1="366.60" y1="273.2" x2="366.60" y2="381.3" stroke="#7a7a7a" stroke-width="1.2"/>
<line x1="391.80" y1="273.2" x2="391.80" y2="381.3" stroke="#7a7a7a" stroke-width="1.2"/>
<line x1="354.10" y1="273.2" x2="354.10" y2="381.3" stroke="#333" stroke-width="0.9" stroke-dasharray="1.2,2.0"/>
<line x1="379.20" y1="273.2" x2="379.20" y2="381.3" stroke="#333" stroke-width="0.9" stroke-dasharray="1.2,2.0"/>
<rect x="304.4" y="273.2" width="137.70" height="108.10" fill="none" stroke="#555" stroke-width="0.9"/>
<line x1="316.40" y1="381.3" x2="316.40" y2="384.70" stroke="#555" stroke-width="0.8"/>
<text x="315.4" y="394.6" font-size="6.4" text-anchor="middle" font-weight="normal" fill="#333" font-family="Liberation Sans" stroke="#333" stroke-width="0.2" >-0.4</text>
<line x1="341.50" y1="381.3" x2="341.50" y2="384.70" stroke="#555" stroke-width="0.8"/>
<text x="340.5" y="394.6" font-size="6.4" text-anchor="middle" font-weight="normal" fill="#333" font-family="Liberation Sans" stroke="#333" stroke-width="0.2" >-0.2</text>
<line x1="366.40" y1="381.3" x2="366.40" y2="384.70" stroke="#555" stroke-width="0.8"/>
<text x="366.4" y="394.6" font-size="6.4" text-anchor="middle" font-weight="normal" fill="#333" font-family="Liberation Sans" stroke="#333" stroke-width="0.2" >0.0</text>
<line x1="391.90" y1="381.3" x2="391.90" y2="384.70" stroke="#555" stroke-width="0.8"/>
<text x="391.9" y="394.6" font-size="6.4" text-anchor="middle" font-weight="normal" fill="#333" font-family="Liberation Sans" stroke="#333" stroke-width="0.2" >0.2</text>
<line x1="417.30" y1="381.3" x2="417.30" y2="384.70" stroke="#555" stroke-width="0.8"/>
<text x="417.3" y="394.6" font-size="6.4" text-anchor="middle" font-weight="normal" fill="#333" font-family="Liberation Sans" stroke="#333" stroke-width="0.2" >0.4</text>
<line x1="441.90" y1="381.3" x2="441.90" y2="384.70" stroke="#555" stroke-width="0.8"/>
<text x="441.9" y="394.6" font-size="6.4" text-anchor="middle" font-weight="normal" fill="#333" font-family="Liberation Sans" stroke="#333" stroke-width="0.2" >0.6</text>
<text x="446.2" y="285.7" font-size="6.4" text-anchor="start" font-weight="normal" fill="#333" font-family="Liberation Sans" stroke="#333" stroke-width="0.12" textLength="45.1" lengthAdjust="spacingAndGlyphs" >Time on dialysis</text>
<text x="446.2" y="296.1" font-size="6.4" text-anchor="start" font-weight="normal" fill="#333" font-family="Liberation Sans" stroke="#333" stroke-width="0.12" textLength="24.0" lengthAdjust="spacingAndGlyphs" >Distance</text>
<text x="446.2" y="306.3" font-size="6.4" text-anchor="start" font-weight="normal" fill="#333" font-family="Liberation Sans" stroke="#333" stroke-width="0.12" textLength="67.3" lengthAdjust="spacingAndGlyphs" >Donor Hypertension (n)</text>
<text x="446.2" y="318.0" font-size="6.4" text-anchor="start" font-weight="normal" fill="#333" font-family="Liberation Sans" stroke="#333" stroke-width="0.12" textLength="32.09" lengthAdjust="spacingAndGlyphs" >Donor Sex (</text>
<text x="487.6" y="318.0" font-size="6.4" text-anchor="end" font-weight="normal" fill="#333" font-family="Liberation Sans" stroke="#333" stroke-width="0.12" >)</text>
<circle cx="480.26" cy="316.31" r="1.36" fill="none" stroke="#333" stroke-width="0.9"/>
<path d="M481.29 315.27L483.93 312.45M482.05 312.45H483.93V314.33" stroke="#333" stroke-width="0.85" fill="none"/>
<text x="446.2" y="329.0" font-size="6.4" text-anchor="start" font-weight="normal" fill="#333" font-family="Liberation Sans" stroke="#333" stroke-width="0.12" textLength="35.9" lengthAdjust="spacingAndGlyphs" >Rejection (y)</text>
<text x="446.2" y="339.2" font-size="6.4" text-anchor="start" font-weight="normal" fill="#333" font-family="Liberation Sans" stroke="#333" stroke-width="0.12" textLength="35.9" lengthAdjust="spacingAndGlyphs" >Rejection (n)</text>
<text x="446.2" y="350.8" font-size="6.4" text-anchor="start" font-weight="normal" fill="#333" font-family="Liberation Sans" stroke="#333" stroke-width="0.12" textLength="32.09" lengthAdjust="spacingAndGlyphs" >Donor Sex (</text>
<text x="485.7" y="350.8" font-size="6.4" text-anchor="end" font-weight="normal" fill="#333" font-family="Liberation Sans" stroke="#333" stroke-width="0.12" >)</text>
<circle cx="481.24" cy="347.04" r="1.08" fill="none" stroke="#333" stroke-width="0.85"/>
<path d="M481.24 348.12V350.90M480.29 349.58H482.18" stroke="#333" stroke-width="0.85" fill="none"/>
<text x="446.2" y="361.0" font-size="6.4" text-anchor="start" font-weight="normal" fill="#333" font-family="Liberation Sans" stroke="#333" stroke-width="0.12" textLength="12.6" lengthAdjust="spacingAndGlyphs" >KDRI</text>
<text x="446.2" y="371.2" font-size="6.4" text-anchor="start" font-weight="normal" fill="#333" font-family="Liberation Sans" stroke="#333" stroke-width="0.12" textLength="66.9" lengthAdjust="spacingAndGlyphs" >Donor Hypertension (y)</text>
<circle cx="406.00" cy="284.20" r="1.3" fill="none" stroke="#444" stroke-width="0.8"/>
<circle cx="437.30" cy="294.90" r="1.3" fill="none" stroke="#444" stroke-width="0.8"/>
<circle cx="399.00" cy="305.60" r="1.3" fill="none" stroke="#444" stroke-width="0.8"/>
<circle cx="423.60" cy="316.50" r="1.3" fill="none" stroke="#444" stroke-width="0.8"/>
<circle cx="390.80" cy="327.30" r="1.3" fill="none" stroke="#444" stroke-width="0.8"/>
<circle cx="342.70" cy="338.20" r="1.3" fill="none" stroke="#444" stroke-width="0.8"/>
<circle cx="309.80" cy="349.00" r="1.3" fill="none" stroke="#444" stroke-width="0.8"/>
<circle cx="388.30" cy="359.60" r="1.3" fill="none" stroke="#444" stroke-width="0.8"/>
<circle cx="334.30" cy="370.80" r="1.3" fill="none" stroke="#444" stroke-width="0.8"/>
<circle cx="388.00" cy="284.20" r="1.5" fill="#111"/>
<circle cx="387.00" cy="294.90" r="1.5" fill="#111"/>
<circle cx="380.80" cy="305.60" r="1.5" fill="#111"/>
<circle cx="371.40" cy="316.50" r="1.5" fill="#111"/>
<circle cx="371.10" cy="327.30" r="1.5" fill="#111"/>
<circle cx="362.60" cy="338.20" r="1.5" fill="#111"/>
<circle cx="362.40" cy="349.00" r="1.5" fill="#111"/>
<circle cx="356.70" cy="359.60" r="1.5" fill="#111"/>
<circle cx="353.00" cy="370.80" r="1.5" fill="#111"/>
<rect x="406.4" y="357.6" width="34.6" height="22.0" fill="#fff" stroke="#555" stroke-width="0.9"/>
<circle cx="411.4" cy="364.9" r="1.05" fill="none" stroke="#555" stroke-width="0.6"/>
<circle cx="411.4" cy="372.6" r="1.25" fill="#111"/>
<text x="416.0" y="367.2" font-size="6.9" text-anchor="start" font-weight="normal" fill="#333" font-family="Liberation Sans" stroke="#333" stroke-width="0.2" textLength="6" lengthAdjust="spacingAndGlyphs" >All</text>
<text x="416.0" y="375.0" font-size="6.9" text-anchor="start" font-weight="normal" fill="#333" font-family="Liberation Sans" stroke="#333" stroke-width="0.2" textLength="21.6" lengthAdjust="spacingAndGlyphs" >Matched</text>
<text x="334.6" y="409.6" font-size="6.6" text-anchor="start" font-weight="normal" fill="#333" font-family="Liberation Sans" stroke="#333" stroke-width="0.2" textLength="77.8" lengthAdjust="spacingAndGlyphs" >Standardized Mean Difference</text>
</svg></body></html>
